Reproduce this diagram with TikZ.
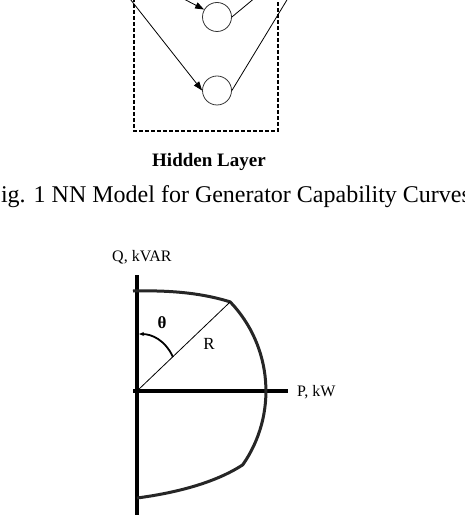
\documentclass[tikz,border=0pt]{standalone}
\usepackage{fontspec}
\setmainfont{Liberation Serif}
\usetikzlibrary{arrows.meta}
\begin{document}
\begin{tikzpicture}[x=1pt,y=-1pt,
  neuron/.style={circle,draw=black!80,line width=0.8pt,minimum size=29pt,inner sep=0pt},
  nnline/.style={line width=0.8pt},
  nnarrow/.style={line width=0.8pt,-{Triangle[length=9pt,width=6.5pt]}},
  layerbox/.style={line width=1.3pt,dash pattern=on 4pt off 2pt},
  axisline/.style={line width=3.3pt},
  capcurve/.style={line width=3pt,draw=black!85},
  radline/.style={line width=0.8pt},
  thetaarc/.style={line width=1.8pt,-{Stealth[length=5pt,width=4pt]}},
  lbl/.style={inner sep=0pt,font=\fontsize{16}{16}\selectfont},
  symlbl/.style={inner sep=0pt,font=\fontsize{17}{17}\selectfont}
]
\useasboundingbox (0,0) rectangle (464,518);
\clip (0,0) rectangle (464,518);

% ---- NN part (cropped) ----
\draw[layerbox] (134,-20) rectangle (278,131);
\node[neuron] (n1) at (217,17) {};
\node[neuron] (n2) at (217,90.5) {};
\coordinate (in1) at (180,-3);
\coordinate (in2) at (123,-10);
\coordinate (out1) at (262,-8);
\coordinate (out2) at (293,-10);
\draw[nnarrow] (in1) -- (n1.150);
\draw[nnarrow] (in2) -- (n2.west);
\draw[nnline] (n1.east) -- (out1);
\draw[nnline] (n2.east) -- (out2);

\node[anchor=base west,inner sep=0pt,font=\bfseries\fontsize{19}{19}\selectfont] (hl) at (152,167) {Hidden Layer};
\node[anchor=base west,inner sep=0pt,font=\fontsize{24}{24}\selectfont] (fig) at (-12.5,203) {Fig. 1 NN Model for Generator Capability Curves};

% ---- capability curve ----
\coordinate (O) at (137,391);
\coordinate (qtop) at (137,275);
\coordinate (qbot) at (137,515);
\coordinate (pleft) at (133,391);
\coordinate (pright) at (288,391);
\coordinate (t0) at (133,291);
\coordinate (corner) at (230.2,301.9);
\coordinate (b1) at (137,498);
\coordinate (th0) at (173,357);
\coordinate (th1) at (139,334);

\draw[axisline] (qtop) -- (qbot);
\draw[axisline] (pleft) -- (pright);
\draw[capcurve] (t0) .. controls (175,290) and (205,294) .. (corner)
  arc[start angle=-43.7,end angle=34.9,radius=129]
  .. controls (215,483) and (175,493) .. (b1);
\draw[radline] (O) -- (corner);
\draw[thetaarc] (th0) .. controls (165,340) and (152,334) .. (th1);

\node[lbl,anchor=base west] (qlab) at (112,261) {Q, kVAR};
\node[lbl,anchor=base west] (plab) at (297,396) {P, kW};
\node[symlbl] (rlab) at (209,344) {R};
\node[symlbl] (thlab) at (162,323) {\bfseries θ};
\end{tikzpicture}
\end{document}
